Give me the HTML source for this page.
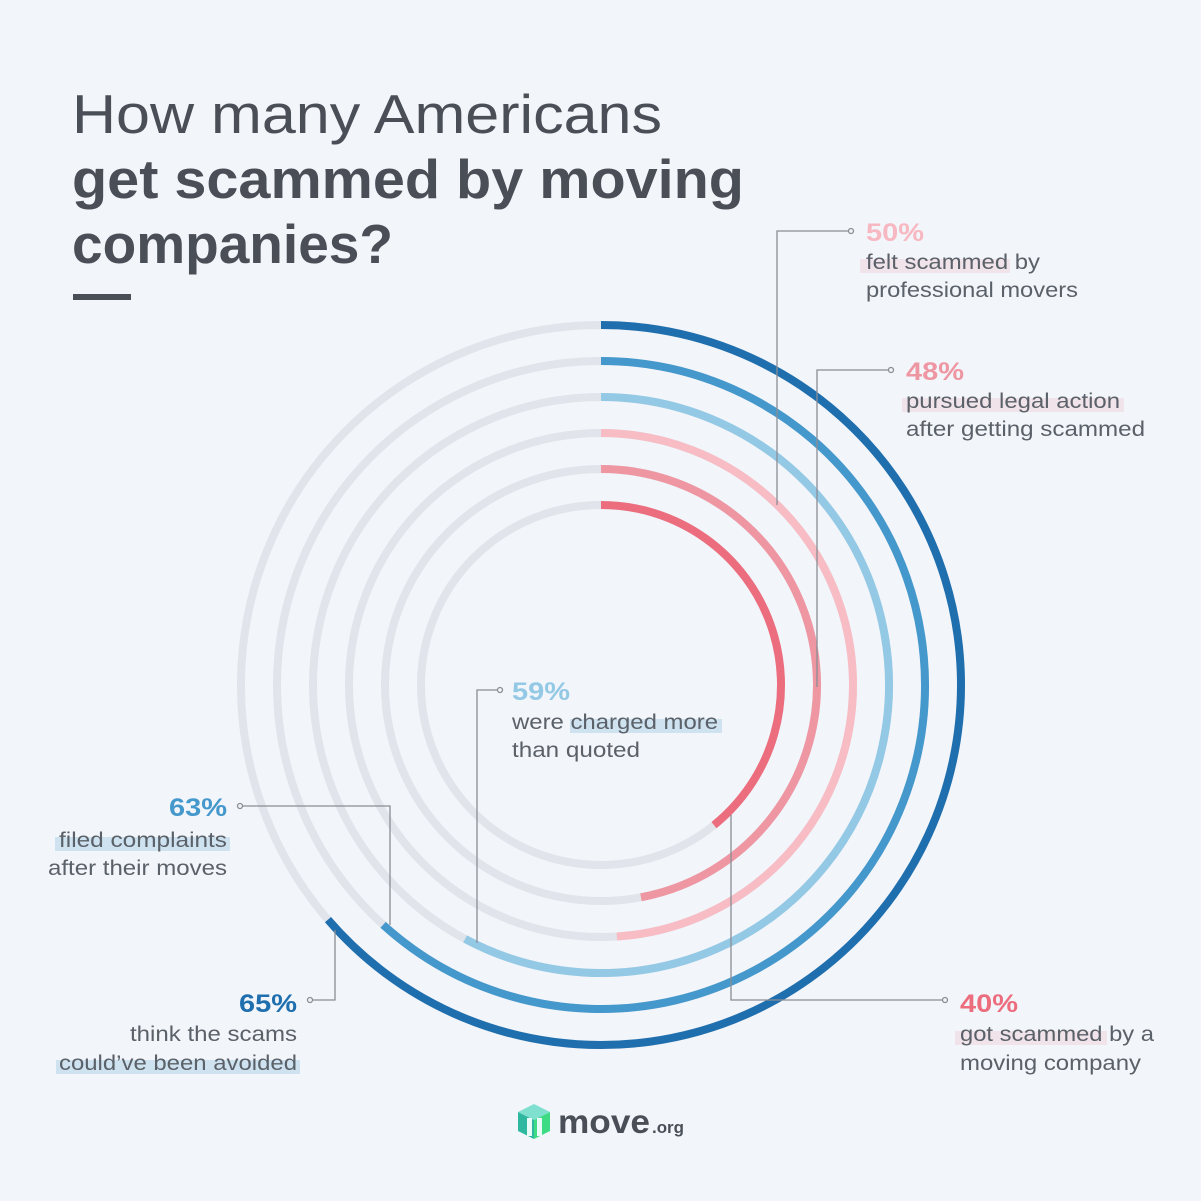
<!DOCTYPE html>
<html><head><meta charset="utf-8"><style>
body{margin:0;background:#f2f5fa;}
svg{display:block;font-family:"Liberation Sans",sans-serif;}
.lbl{font-size:21px;fill:#5b6169;}
.pct{font-size:25px;font-weight:bold;}
</style></head><body>
<svg id="chart" width="1201" height="1201" viewBox="0 0 1201 1201">
<rect width="1201" height="1201" fill="#f2f5fa"/>
<g fill="#4a4f57" font-size="55">
<text x="72" y="133" textLength="590" lengthAdjust="spacingAndGlyphs">How many Americans</text>
<text x="72" y="198" textLength="672" lengthAdjust="spacingAndGlyphs" font-weight="bold">get scammed by moving</text>
<text x="72" y="263" textLength="321" lengthAdjust="spacingAndGlyphs" font-weight="bold">companies?</text>
</g>
<rect x="73" y="294" width="58" height="6" fill="#4a4f57"/>
<g id="rings"></g>
<g stroke="#8a8e95" stroke-width="1.3" fill="none">
<polyline points="851,231 777,231 777,505"/>
<polyline points="891,370 817,370 817,687"/>
<polyline points="500,690 477,690 477,943"/>
<polyline points="240,806 390,806 390,925"/>
<polyline points="310,1000 335,1000 335,930"/>
<polyline points="945,1000 731,1000 731,815"/>
<g fill="#f2f5fa">
<circle cx="851" cy="231" r="2.5"/><circle cx="891" cy="370" r="2.5"/><circle cx="500" cy="690" r="2.5"/>
<circle cx="240" cy="806" r="2.5"/><circle cx="310" cy="1000" r="2.5"/><circle cx="945" cy="1000" r="2.5"/>
</g>
</g>
<g>
<rect x="860" y="259" width="150" height="14" fill="#f1e3ea"/>
<rect x="902" y="398" width="222" height="14" fill="#f1e3ea"/>
<rect x="570" y="719" width="152" height="14" fill="#cfe2f0"/>
<rect x="55" y="837" width="175" height="14" fill="#cfe2f0"/>
<rect x="56" y="1060" width="244" height="14" fill="#cfe2f0"/>
<rect x="955" y="1031" width="152" height="14" fill="#f1e3ea"/>
</g>
<g>
<text class="pct" x="866" y="241" textLength="58" lengthAdjust="spacingAndGlyphs" fill="#f7b8c2">50%</text>
<text class="lbl" x="866" y="269" textLength="174" lengthAdjust="spacingAndGlyphs">felt scammed by</text>
<text class="lbl" x="866" y="297" textLength="212" lengthAdjust="spacingAndGlyphs">professional movers</text></g>
<g>
<text class="pct" x="906" y="380" textLength="58" lengthAdjust="spacingAndGlyphs" fill="#ee97a3">48%</text>
<text class="lbl" x="906" y="408" textLength="214" lengthAdjust="spacingAndGlyphs">pursued legal action</text>
<text class="lbl" x="906" y="436" textLength="239" lengthAdjust="spacingAndGlyphs">after getting scammed</text></g>
<g>
<text class="pct" x="512" y="700" textLength="58" lengthAdjust="spacingAndGlyphs" fill="#94c9e6">59%</text>
<text class="lbl" x="512" y="729" textLength="206" lengthAdjust="spacingAndGlyphs">were charged more</text>
<text class="lbl" x="512" y="757" textLength="128" lengthAdjust="spacingAndGlyphs">than quoted</text></g>
<g>
<text class="pct" x="169" y="816" textLength="58" lengthAdjust="spacingAndGlyphs" fill="#4598cc">63%</text>
<text class="lbl" x="59" y="847" textLength="168" lengthAdjust="spacingAndGlyphs">filed complaints</text>
<text class="lbl" x="48" y="875" textLength="179" lengthAdjust="spacingAndGlyphs">after their moves</text></g>
<g>
<text class="pct" x="239" y="1012" textLength="58" lengthAdjust="spacingAndGlyphs" fill="#1f6fae">65%</text>
<text class="lbl" x="130" y="1041" textLength="167" lengthAdjust="spacingAndGlyphs">think the scams</text>
<text class="lbl" x="59" y="1070" textLength="238" lengthAdjust="spacingAndGlyphs">could’ve been avoided</text></g>
<g>
<text class="pct" x="960" y="1012" textLength="58" lengthAdjust="spacingAndGlyphs" fill="#ec6e7e">40%</text>
<text class="lbl" x="960" y="1041" textLength="194" lengthAdjust="spacingAndGlyphs">got scammed by a</text>
<text class="lbl" x="960" y="1070" textLength="181" lengthAdjust="spacingAndGlyphs">moving company</text></g>
<g>
<polygon points="518,1112 534,1104 550,1112 534,1120" fill="#7fe0cf"/>
<polygon points="518,1112 534,1120 534,1139 518,1131" fill="#2fb8a0"/>
<polygon points="534,1120 550,1112 550,1131 534,1139" fill="#3ddc84"/>
<rect x="527" y="1118" width="5" height="18" fill="#e8fbf6"/>
<rect x="537" y="1118" width="5" height="18" fill="#e8fbf6"/>
<text x="558" y="1133" font-size="33" font-weight="bold" fill="#4a4f57" textLength="92" lengthAdjust="spacingAndGlyphs">move</text>
<text x="652" y="1133" font-size="17" font-weight="bold" fill="#4a4f57" textLength="32" lengthAdjust="spacingAndGlyphs">.org</text>
</g>
</svg>
<script>
const labels=["65%","63%","59%","50%","48%","40%"];
const values=[65,63,59,50,48,40];
const colors=["#1f6fae","#4598cc","#94c9e6","#f7bcc4","#ee97a3","#ec6e7e"];
const cx=601,cy=685,r0=360,step=36,sw=8;
const g=document.getElementById('rings');
const NS="http://www.w3.org/2000/svg";
function pt(r,p){const a=p/100*2*Math.PI*0.98;return [cx+r*Math.sin(a),cy-r*Math.cos(a)];}
values.forEach((v,i)=>{
 const r=r0-i*step;
 const c=document.createElementNS(NS,'circle');
 c.setAttribute('cx',cx);c.setAttribute('cy',cy);c.setAttribute('r',r);
 c.setAttribute('fill','none');c.setAttribute('stroke','#e1e4ea');c.setAttribute('stroke-width',sw);
 
 
 g.appendChild(c);
 const [x,y]=pt(r,v);
 const p=document.createElementNS(NS,'path');
 p.setAttribute('d',`M${cx},${cy-r} A${r},${r} 0 ${v*0.98>50?1:0} 1 ${x},${y}`);
 p.setAttribute('fill','none');p.setAttribute('stroke',colors[i]);p.setAttribute('stroke-width',sw);
 
 
 g.appendChild(p);
});
</script>
</body></html>
